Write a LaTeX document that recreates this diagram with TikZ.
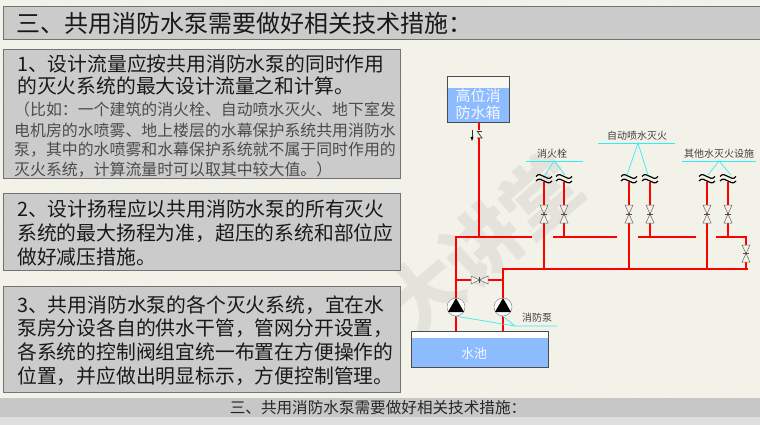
\documentclass[tikz,border=0pt]{standalone}
\usepackage{fontspec}
\usepackage{xcolor}
\setmainfont{Noto Sans CJK SC}
\usetikzlibrary{positioning}
\definecolor{paper}{HTML}{F3F2E9}
\definecolor{panel}{HTML}{CBCBCB}
\definecolor{water}{HTML}{8DBBFF}
\definecolor{pipe}{HTML}{FF0000}
\definecolor{leader}{HTML}{33EEF0}
\newcommand{\pxfont}[1]{\fontsize{#1}{#1}\selectfont}
\begin{document}
\begin{tikzpicture}[
    x=1pt,y=-1pt,
    panelbox/.style={draw=black!55,fill=panel,line width=0.8pt},
    headline/.style={anchor=west,inner sep=0pt,text=black!90,font=\pxfont{19.8}},
    subline/.style={anchor=west,inner sep=0pt,text=black!70,font=\pxfont{15.9}},
    tagtext/.style={inner sep=0pt,text=black!75,font=\pxfont{10}},
    vessel/.style={draw=black!70,line width=1pt},
    tube/.style={draw=pipe,line width=1.8pt},
    tagline/.style={draw=leader,line width=0.7pt},
    pumpnode/.style={circle,draw=black!45,fill=white,minimum size=18pt,inner sep=0pt,line width=0.5pt},
    gatevalve/.style={draw=black!60,fill=paper,line width=0.5pt},
    squiggle/.style={draw=black,line width=1.2pt},
    markchar/.style={rotate=41,inner sep=0pt,text=paper!94!black,font=\pxfont{76}\bfseries}
]
\useasboundingbox (0,0) rectangle (760,425);
\fill[paper] (0,0) rectangle (760,425);

% Paper mottling
\pgfmathsetseed{7}
\foreach \i in {1,...,900}{
  \fill[black!6,opacity=0.45] (rnd*760,rnd*425) ellipse (5pt and 1.5pt);
}

% Watermark
\node[markchar] (mark1) at (424,294) {大};
\node[markchar] (mark2) at (482,245) {讲};
\node[markchar] (mark3) at (540,195) {堂};

% Title and text panels
\draw[panelbox] (3,6) rectangle (760,39);
\node[anchor=west,inner sep=0pt,text=black!90,font=\pxfont{24}] (title) at (16,23) {三、共用消防水泵需要做好相关技术措施：};

\draw[panelbox] (3,49) rectangle (400,178);
\node[headline] (a1) at (17,64) {1、设计流量应按共用消防水泵的同时作用};
\node[headline] (a2) at (17,86) {的灭火系统的最大设计流量之和计算。};
\node[subline] (a3) at (14,109) {（比如：一个建筑的消火栓、自动喷水灭火、地下室发};
\node[subline] (a4) at (14,130) {电机房的水喷雾、地上楼层的水幕保护系统共用消防水};
\node[subline] (a5) at (14,150) {泵，其中的水喷雾和水幕保护系统就不属于同时作用的};
\node[subline] (a6) at (14,170) {灭火系统，计算流量时可以取其中较大值。）};

\draw[panelbox] (3,193) rectangle (400,270);
\node[headline] (b1) at (17,209) {2、设计扬程应以共用消防水泵的所有灭火};
\node[headline] (b2) at (17,233) {系统的最大扬程为准，超压的系统和部位应};
\node[headline] (b3) at (17,257) {做好减压措施。};

\draw[panelbox] (3,286) rectangle (400,392);
\node[headline] (c1) at (17,305) {3、共用消防水泵的各个灭火系统，宜在水};
\node[headline] (c2) at (17,328) {泵房分设各自的供水干管，管网分开设置，};
\node[headline] (c3) at (17,352) {各系统的控制阀组宜统一布置在方便操作的};
\node[headline] (c4) at (17,376) {位置，并应做出明显标示，方便控制管理。};

% Bottom bars
\fill[black!22] (0,398) rectangle (760,417);
\fill[black!13] (0,417) rectangle (760,425);
\node[inner sep=0pt,text=black!85,font=\pxfont{15.6}] (foot) at (378,408) {三、共用消防水泵需要做好相关技术措施：};

% Pipes
\draw[tube] (479,123) -- (479,237);
\draw[tube] (503,331) -- (503,269) -- (748,269);
\draw[tube] (456,331) -- (456,237) -- (532,237);
\draw[tube] (553,237) -- (617,237);
\draw[tube] (638,237) -- (696,237);
\draw[tube] (716,237) -- (746,237) -- (746,269);
\draw[tube] (456,280) -- (503,280);
\foreach \px/\py in {544/269,564/237,629/269,650/237,707/269,728/237}{
  \draw[tube] (\px,182) -- (\px,\py);
  \draw[gatevalve] (\px-4,205) -- (\px+4,205) -- (\px-4,223) -- (\px+4,223) -- cycle;
  \draw[black!70,line width=0.5pt] (\px-3,214) -- (\px+3,214);
  \draw[squiggle] (\px-8,176.5) .. controls (\px-3,170) and (\px+3,183) .. (\px+8,176.5);
  \draw[squiggle] (\px-8,181) .. controls (\px-3,174.5) and (\px+3,187.5) .. (\px+8,181);
}
\draw[gatevalve] (742,245) -- (750,245) -- (742,262) -- (750,262) -- cycle;
\draw[black!70,line width=0.5pt] (743,253.5) -- (749,253.5);
\draw[gatevalve] (471,276) -- (471,284) -- (488,276) -- (488,284) -- cycle;
\draw[black!70,line width=0.5pt] (479.5,277) -- (479.5,283);

% Check valve on the riser
\fill[paper] (476,130) rectangle (483,138);
\draw[black!80,line width=0.7pt] (477,131) -- (481.5,131);
\draw[black!80,line width=0.7pt] (477,131) -- (482,138) -- (477,138);
\draw[black!80,line width=0.7pt] (472,130) -- (472,139);
\fill[black] (470.5,137) -- (473.5,137) -- (472,141) -- cycle;

% Tank and pool
\fill[paper!60!white] (447,77) rectangle (509,88);
\fill[water] (447,88) rectangle (509,123);
\draw[vessel] (447,77) rectangle (509,123);
\node[inner sep=0pt,text=white!90!water,font=\pxfont{15}] (tank1) at (478,96) {高位消};
\node[inner sep=0pt,text=white!90!water,font=\pxfont{15}] (tank2) at (478,113) {防水箱};

\fill[white] (411,331) rectangle (548,338);
\fill[water] (411,338) rectangle (548,367);
\draw[vessel] (411,331) rectangle (548,367);
\node[inner sep=0pt,text=white!90!water,font=\pxfont{13}] (pool) at (474,354) {水池};

% Pumps
\node[pumpnode] (pump1) at (456,307) {};
\node[pumpnode] (pump2) at (503,307) {};
\fill[black] (pump1.center) ++(-8,5) -- ++(16,0) -- ++(-8,-14) -- cycle;
\fill[black] (pump2.center) ++(-8,5) -- ++(16,0) -- ++(-8,-14) -- cycle;

% Labels
\node[tagtext] (hydrant) at (552,154) {消火栓};
\node[tagtext] (sprinkler) at (637,136) {自动喷水灭火};
\node[tagtext] (others) at (719,154) {其他水灭火设施};
\node[tagtext] (pumptag) at (537,318) {消防泵};
\draw[tagline] (526,161) -- (583,161);
\draw[tagline] (545,175) -- (554,161) -- (565,175);
\draw[tagline] (598,143) -- (675,143);
\draw[tagline] (627,175) -- (638,143) -- (648,175);
\draw[tagline] (682,161) -- (756,161);
\draw[tagline] (708,175) -- (719,161) -- (731,175);
\coordinate (tagjoint) at (515,326);
\draw[tagline] (pump1.south) -- (tagjoint) -- (557,326);
\draw[tagline] (pump2.south) -- (tagjoint);

\end{tikzpicture}
\end{document}
